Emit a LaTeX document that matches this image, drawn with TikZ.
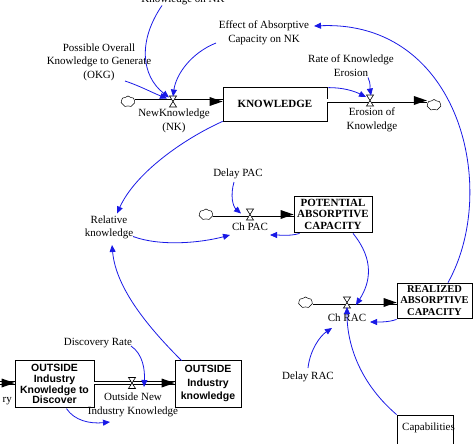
\documentclass[tikz,border=0pt]{standalone}
\usepackage{fontspec}
\setmainfont{Liberation Serif}
\setsansfont{Liberation Sans}
\usetikzlibrary{arrows.meta,calc,shapes.symbols,decorations.markings}

\definecolor{linkblue}{RGB}{25,25,230}

\tikzset{
  lbl/.style={align=center, inner sep=1pt, font=\fontsize{11}{13.5}\selectfont},
  stock/.style={draw, line width=0.8pt, inner sep=0pt, align=center},
  link/.style={draw=linkblue, line width=0.8pt, -{Triangle[length=7pt,width=6pt]}},
  flow/.style={draw, line width=0.8pt, double=white, double distance=2.4pt,
    postaction={decorate, decoration={markings, mark=at position 1 with
      {\fill[black] (0pt,0pt) -- (-13pt,4.5pt) -- (-13pt,-4.5pt) -- cycle;}}}},
  source/.style={cloud, cloud puffs=7, cloud puff arc=110, aspect=1.3, draw,
    line width=0.5pt, fill=white, minimum width=14pt, minimum height=11pt,
    inner sep=0pt},
  valve/.pic={\draw[fill=white, line width=0.6pt]
    (-3.5,-5.5) -- (3.5,-5.5) -- (-3.5,5.5) -- (3.5,5.5) -- cycle;}
}

\begin{document}
\begin{tikzpicture}[x=1pt, y=-1pt]
  \useasboundingbox (0,0) rectangle (474,444);

  % stocks
  \node[stock, minimum width=104pt, minimum height=34pt,
    font=\bfseries\fontsize{11}{12}\selectfont] (know) at (275,104) {KNOWLEDGE};
  \node[stock, minimum width=78pt, minimum height=36pt,
    font=\bfseries\fontsize{11}{11.5}\selectfont] (pac) at (333,214)
    {POTENTIAL\\ABSORPTIVE\\CAPACITY};
  \node[stock, minimum width=75pt, minimum height=35pt,
    font=\bfseries\fontsize{10.5}{11.5}\selectfont] (rac) at (434.5,300.5)
    {REALIZED\\ABSORPTIVE\\CAPACITY};
  \node[stock, minimum width=79pt, minimum height=46.5pt,
    font=\sffamily\bfseries\fontsize{10.5}{10.8}\selectfont] (outd) at (54.5,384)
    {OUTSIDE\\Industry\\Knowledge to\\Discover};
  \node[stock, minimum width=66pt, minimum height=47pt,
    font=\sffamily\bfseries\fontsize{10.5}{13.3}\selectfont] (outk) at (208,383.5)
    {OUTSIDE\\Industry\\knowledge};
  \node[stock, minimum width=56pt, minimum height=45pt] (capab) at (425,437.5) {};
  \node[lbl] (capt) at (428.5,428) {Capabilities};

  % sources and sinks
  \node[source] (cNK) at (128,101.5) {};
  \node[source] (cER) at (434,105) {};
  \node[source] (cPAC) at (206,214.5) {};
  \node[source] (cRAC) at (305.5,302.5) {};
  \coordinate (inL) at (-30,383);

  % valves
  \coordinate (vNK) at (173,101.5);
  \coordinate (vER) at (370,100.5);
  \coordinate (vPAC) at (250,214.5);
  \coordinate (vRAC) at (347,302.5);
  \coordinate (vOUT) at (132,383);

  % auxiliaries
  \node[lbl, anchor=base] (topk) at (183,2.5) {Knowledge on NK};
  \node[lbl] (effac) at (264,33) {Effect of Absorptive\\Capacity on NK};
  \node[lbl] (okg) at (99,62) {Possible Overall\\Knowledge to Generate\\(OKG)};
  \node[lbl] (nk) at (174,121) {NewKnowledge\\(NK)};
  \node[lbl] (rke) at (351,65.5) {Rate of Knowledge\\Erosion};
  \node[lbl] (eros) at (372,120) {Erosion of\\Knowledge};
  \node[lbl] (relk) at (109,227.5) {Relative\\knowledge};
  \node[lbl] (dpac) at (238,174) {Delay PAC};
  \node[lbl] (chpac) at (250,227) {Ch PAC};
  \node[lbl] (chrac) at (347,318) {Ch RAC};
  \node[lbl] (drac) at (308,377) {Delay RAC};
  \node[lbl] (drate) at (98,343) {Discovery Rate};
  \node[lbl] (onik) at (133,405) {Outside New\\Industry Knowledge};
  \node[lbl, anchor=east] (ry) at (13,401) {ry};
  \coordinate (odEnd) at (110,422);

  % flows
  \draw[flow] (cNK.east) -- (cNK.east -| know.west);
  \draw[flow] (know.east |- vER) -- (cER.west |- vER);
  \draw[flow] (cPAC.east) -- (cPAC.east -| pac.west);
  \draw[flow] (cRAC.east) -- (cRAC.east -| rac.west);
  \draw[flow] (outd.east |- vOUT) -- (outk.west |- vOUT);
  \draw[flow] (inL) -- (outd.west |- inL);
  \foreach \v in {vNK,vER,vPAC,vRAC,vOUT}
    \pic at (\v) {valve};

  % links
  \draw[link] ($(topk.base)+(-21,3)$) .. controls +(-24,35) and +(-28,-22) .. ($(vNK)+(-4,-4)$);
  \draw[link] ($(okg)+(26,19)$) .. controls +(15,5) and +(-15,-6) .. ($(vNK)+(-6,-3)$);
  \draw[link] ($(effac)+(-48,10)$) .. controls +(-25,10) and +(3,-22) .. ($(vNK)+(0,-5)$);
  \draw[link] ($(rac.north)+(13.5,0)$) .. controls +(52,-93) and +(146,-6) .. ($(effac)+(50,-7)$);
  \draw[link] ($(know.north east)+(1,1)$) .. controls +(15,0) and +(-12,-6) .. ($(vER)+(-4,-3.5)$);
  \draw[link] ($(rke)+(17,12)$) .. controls +(3,6) and +(-1,-6) .. ($(vER)+(1,-5)$);
  \draw[link] (know.south west) .. controls +(-40,18) and +(18,-40) .. ($(relk)+(8,-14)$);
  \draw[link] ($(relk)+(24,9)$) .. controls +(27,10) and +(-30,8) .. ($(chpac)+(-20,8)$);
  \draw[link] ($(dpac)+(-4,8)$) .. controls +(-4,14) and +(-8,-7) .. ($(vPAC)+(-9,-1)$);
  \draw[link] ($(pac.south west)+(6,1)$) .. controls +(-10,3) and +(10,0) .. ($(chpac)+(20,8)$);
  \draw[link] ($(pac.south)+(20,1)$) .. controls +(22,27) and +(14,-22) .. ($(vRAC)+(9,2.5)$);
  \draw[link] ($(rac.south west)+(0,1)$) .. controls +(-8,3) and +(8,0) .. ($(chrac)+(23,4)$);
  \draw[link] ($(drac)+(0,-9)$) .. controls +(2,-18) and +(-12,8) .. ($(chrac)+(-15,10)$);
  \draw[link] (capab.north west) .. controls +(-35,-30) and +(0,40) .. ($(vRAC)+(0,4.5)$);
  \draw[link] ($(outk.north west)+(7,1)$) .. controls +(-30,-30) and +(4,45) .. ($(relk)+(3,17.5)$);
  \draw[link] ($(drate)+(33,3)$) .. controls +(12,8) and +(1,-17) .. ($(vOUT)+(12,4)$);
  \draw[link] ($(outd.south)+(12,1)$) .. controls +(8,12) and +(-20,2) .. (odEnd);
\end{tikzpicture}
\end{document}
